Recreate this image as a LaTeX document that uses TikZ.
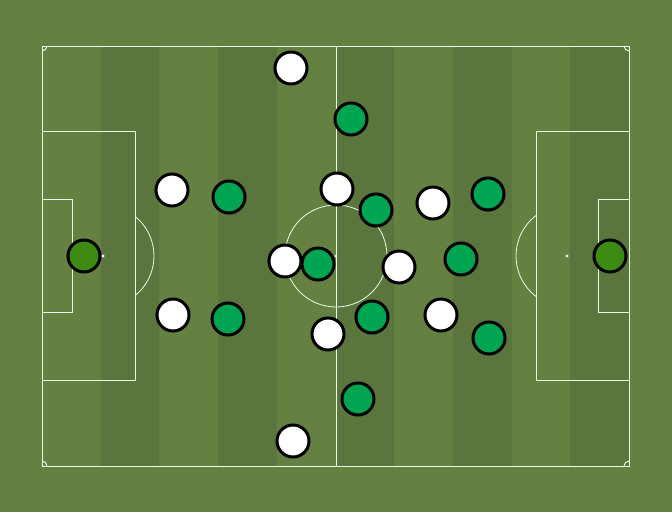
\documentclass[tikz,border=0pt]{standalone}
\begin{document}
\begin{tikzpicture}[x=1pt,y=-1pt,
  line/.style={draw=white!90!green, line width=1pt},
  plr/.style={circle, draw=black, line width=3pt, minimum size=32pt, inner sep=0pt},
  whiteplr/.style={plr, fill=white},
  greenplr/.style={plr, fill=teamgreen},
  keeper/.style={plr, fill=gkgreen}]
\definecolor{bg}{HTML}{648141}
\definecolor{stripe}{HTML}{5A763D}
\definecolor{teamgreen}{HTML}{00A551}
\definecolor{gkgreen}{HTML}{3E8B13}
\fill[bg] (0,0) rectangle (672,512);
\useasboundingbox (0,0) rectangle (672,512);
\foreach \i in {1,3,5,7,9} {
  \fill[stripe] ({42+\i*58.7},46) rectangle ({42+(\i+1)*58.7},466);
}
% pitch lines
\draw[line] (42,46) rectangle (629,466);
\draw[line] (336,46) -- (336,466);
\draw[line, line width=0.8pt] (336,256) circle (51);
\fill[white] (336,256) circle (1.3);
\draw[line] (42,131) rectangle (135,380);
\draw[line] (42,199) rectangle (72,312);
\draw[line] (629,131) rectangle (536,380);
\draw[line] (629,199) rectangle (598,312);
\fill[white] (103,256) circle (1.6);
\fill[white] (567,256) circle (1.6);
% penalty arcs
\begin{scope}
\clip (135,0) rectangle (200,512);
\draw[line, line width=0.8pt] (103,256) circle (51);
\end{scope}
\begin{scope}
\clip (470,0) rectangle (536,512);
\draw[line, line width=0.8pt] (567,256) circle (51);
\end{scope}
% corner arcs
\draw[line] (42,51) arc[start angle=90, end angle=0, radius=5];
\draw[line] (624,46) arc[start angle=180, end angle=90, radius=5];
\draw[line] (47,466) arc[start angle=0, end angle=-90, radius=5];
\draw[line] (629,461) arc[start angle=270, end angle=180, radius=5];
% keepers
\node[keeper] (gk1) at (84,256) {};
\node[keeper] (gk2) at (610,256) {};
% white team
\node[whiteplr] (w1) at (291,68) {};
\node[whiteplr] (w2) at (172,190) {};
\node[whiteplr] (w3) at (337,189) {};
\node[whiteplr] (w4) at (433,203) {};
\node[whiteplr] (w5) at (285,261) {};
\node[whiteplr] (w6) at (399,267) {};
\node[whiteplr] (w7) at (173,315) {};
\node[whiteplr] (w8) at (441,315) {};
\node[whiteplr] (w9) at (328,334) {};
\node[whiteplr] (w10) at (293,441) {};
% green team
\node[greenplr] (g1) at (351,119) {};
\node[greenplr] (g2) at (229,197) {};
\node[greenplr] (g3) at (488,194) {};
\node[greenplr] (g4) at (376,210) {};
\node[greenplr] (g5) at (318,264) {};
\node[greenplr] (g6) at (461,259) {};
\node[greenplr] (g7) at (228,319) {};
\node[greenplr] (g8) at (372,317) {};
\node[greenplr] (g9) at (489,338) {};
\node[greenplr] (g10) at (358,399) {};
\end{tikzpicture}
\end{document}
